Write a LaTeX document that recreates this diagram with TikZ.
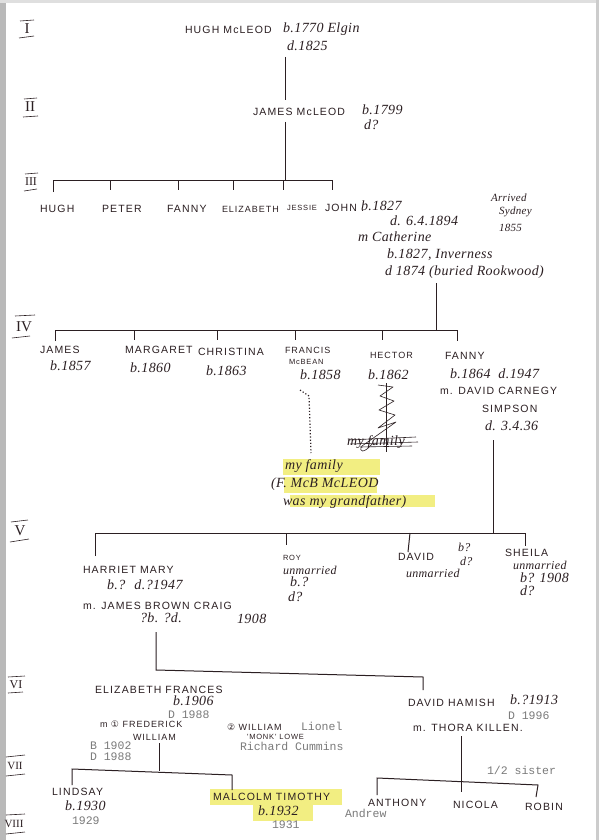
\documentclass[tikz,border=0pt]{standalone}
\usepackage{fontspec}
\setmainfont{Liberation Sans}
\setmonofont{Liberation Mono}
\newfontfamily\capsfont[LetterSpace=11]{Liberation Sans}
\newfontfamily\curfont[LetterSpace=3]{Liberation Serif}
\newfontfamily\romfont{Liberation Serif}
\newfontfamily\symfont{DejaVu Sans}
\definecolor{ink}{HTML}{2B1F22}
\definecolor{typed}{HTML}{7A7A7A}
\definecolor{hl}{HTML}{F2EE82}
\begin{document}
\begin{tikzpicture}[x=1pt,y=-1pt,
  every node/.style={inner sep=0pt,outer sep=0pt,anchor=west,text=ink},
  nm/.style={font=\capsfont\fontsize{10.5}{11}\selectfont},
  nmM/.style={font=\capsfont\fontsize{9}{10}\selectfont},
  nmS/.style={font=\capsfont\fontsize{7.5}{8}\selectfont},
  cur/.style={font=\curfont\itshape\fontsize{14}{15}\selectfont},
  curS/.style={font=\curfont\itshape\fontsize{12}{13}\selectfont},
  curT/.style={font=\curfont\itshape\fontsize{11}{12}\selectfont},
  ty/.style={font=\ttfamily\fontsize{11.5}{12}\selectfont,text=typed},
  rom/.style={font=\romfont\fontsize{15}{16}\selectfont,anchor=center},
  ln/.style={draw=ink,line width=1pt},
  thin/.style={draw=ink,line width=0.6pt},
  hlbox/.style={fill=hl,draw=none}]
\fill[white] (0,0) rectangle (599,840);
\useasboundingbox (0,0) rectangle (599,840);
\fill[gray!55] (0,0) rectangle (6,840);
\fill[gray!25] (0,0) rectangle (599,3);
\fill[gray!40] (596,0) rectangle (599,840);

% highlights
\fill[hlbox] (283,459) rectangle (380,475);
\fill[hlbox] (284,477) rectangle (377,493);
\fill[hlbox] (290,495) rectangle (435,507);
\fill[hlbox] (210,789) rectangle (342,805);
\fill[hlbox] (253,805) rectangle (313,821);

% roman numerals
\node[rom] (r1) at (27,29) {I};
\draw[thin] (20,21) -- (34,20); \draw[thin] (19,38) -- (34,36);
\node[rom] (r2) at (30,107) {II};
\draw[thin] (23,117) -- (38,116); \draw[thin] (24,99) -- (37,98);
\node[rom,font=\romfont\fontsize{12}{13}\selectfont] (r3) at (31,182) {III};
\draw[thin] (25,174) -- (38,173); \draw[thin] (24,191) -- (37,189);
\node[rom] (r4) at (24,327) {IV};
\draw[thin] (15,316) -- (35,315); \draw[thin] (12,338) -- (30,336);
\node[rom] (r5) at (20,531) {V};
\draw[thin] (11,522) -- (28,520); \draw[thin] (10,542) -- (29,539);
\node[rom,font=\romfont\fontsize{12}{13}\selectfont] (r6) at (16,685) {VI};
\draw[thin] (8,677) -- (25,676); \draw[thin] (8,693) -- (23,692);
\node[rom,font=\romfont\fontsize{11}{12}\selectfont] (r7) at (15,766) {VII};
\draw[thin] (6,757) -- (25,755); \draw[thin] (6,776) -- (25,774);
\node[rom,font=\romfont\fontsize{11}{12}\selectfont] (r8) at (14,824) {VIII};
\draw[thin] (6,815) -- (25,814); \draw[thin] (6,834) -- (25,832);

% generation I
\node[nm] (hugh1) at (185,30) {HUGH McLEOD};
\node[cur] (hugh1b) at (283,29) {b.1770 Elgin};
\node[cur] (hugh1d) at (287,46) {d.1825};
\coordinate (c1t) at (285,57); \coordinate (c1b) at (285,100);
\draw[ln] (c1t) -- (c1b);

% generation II
\node[nm] (james2) at (253,112) {JAMES McLEOD};
\node[cur] (james2b) at (362,110) {b.1799};
\node[cur] (james2d) at (364,125) {d?};
\coordinate (c2t) at (285,122); \coordinate (c2b) at (285,180);
\draw[ln] (c2t) -- (c2b);

% generation III bar
\coordinate (b3l) at (53,180); \coordinate (b3r) at (332,180);
\draw[ln] (53,192) -- (b3l) -- (b3r) -- (332,190);
\foreach \x in {110,178,233,283} \draw[ln] (\x,180) -- (\x,190);

\node[nm] (hugh3) at (40,209) {HUGH};
\node[nm] (peter3) at (102,209) {PETER};
\node[nm] (fanny3) at (167,209) {FANNY};
\node[nmM] (eliz3) at (222,209) {ELIZABETH};
\node[nmS] (jessie3) at (287,208) {JESSIE};
\node[nm] (john3) at (325,208) {JOHN .};
\node[cur] (john3b) at (361,206) {b.1827};
\node[cur] (john3d) at (390,221) {d. 6.4.1894};
\node[cur] (john3m) at (358,237) {m Catherine};
\node[cur] (cath3b) at (387,255) {b.1827, Inverness};
\node[cur] (cath3d) at (385,272) {d 1874 (buried Rookwood)};
\node[curT] (arr1) at (491,198) {Arrived};
\node[curT] (arr2) at (499,212) {Sydney};
\node[curT] (arr3) at (499,228) {1855};
\coordinate (c3t) at (436,283); \coordinate (c3b) at (436,330);
\draw[ln] (c3t) -- (c3b);

% generation IV bar
\draw[ln] (55,341) -- (55,330) -- (457,330) -- (457,341);
\foreach \x in {134,217,295,382} \draw[ln] (\x,330) -- (\x,340);

\node[nm] (james4) at (40,350) {JAMES};
\node[cur] (james4b) at (50,366) {b.1857};
\node[nm] (marg4) at (125,350) {MARGARET};
\node[cur] (marg4b) at (130,368) {b.1860};
\node[nm] (chris4) at (198,352) {CHRISTINA};
\node[cur] (chris4b) at (206,371) {b.1863};
\node[nmM] (fran4) at (285,350) {FRANCIS};
\node[nmS] (fran4m) at (289,362) {McBEAN};
\node[cur] (fran4b) at (300,375) {b.1858};
\node[nmM] (hect4) at (370,355) {HECTOR};
\node[cur] (hect4b) at (368,375) {b.1862};
\node[nm] (fanny4) at (445,356) {FANNY};
\node[cur] (fanny4b) at (450,374) {b.1864 \ d.1947};
\node[nm] (fanny4m) at (440,391) {m. DAVID CARNEGY};
\node[nm] (fanny4s) at (482,409) {SIMPSON};
\node[cur] (fanny4d) at (485,426) {d. 3.4.36};

% Francis dotted descent
\coordinate (fr1) at (300,390); \coordinate (fr2) at (309,396); \coordinate (fr3) at (311,453);
\draw[ink,line width=1.2pt,dotted] (fr1) -- (fr2) -- (fr3);
% Hector scribble
\coordinate (he1) at (386,383); \coordinate (he2) at (386,452);
\draw[thin] (he1) -- (he2);
\draw[thin,line join=round] (378,385) -- (393,387) -- (380,396) -- (394,401) -- (379,410) -- (395,415) -- (378,428)
  -- (396,422) -- (362,446) .. controls (358,452) and (364,454) .. (372,444);
\node[cur] (cross) at (347,442) {my family};
\draw[thin] (348,440) -- (416,437); \draw[thin] (350,444) -- (418,442); \draw[thin] (360,447) -- (412,446);

% note
\node[cur] (note1) at (285,466) {my family};
\node[cur] (note2) at (271,484) {(F. McB McLEOD};
\node[cur] (note3) at (283,502) {was my grandfather)};

% Fanny descent
\coordinate (c4t) at (493,440); \coordinate (c4b) at (493,533);
\draw[ln] (c4t) -- (c4b);

% generation V bar
\draw[ln] (95,556) -- (95,533) -- (525,533) -- (525,546);
\draw[ln] (286,533) -- (286,545);
\draw[ln] (410,533) -- (408,552);

\node[nm] (harr5) at (83,570) {HARRIET MARY};
\node[cur] (harr5b) at (107,585) {b.? \ d.?1947};
\node[nm] (harr5m) at (83,606) {m. JAMES BROWN CRAIG};
\node[cur] (harr5c) at (140,618) {?b. ?d.};
\node[cur] (harr5y) at (237,619) {1908};
\node[nmS] (roy5) at (283,558) {ROY};
\node[curS] (roy5u) at (283,570) {unmarried};
\node[cur] (roy5b) at (290,582) {b.?};
\node[cur] (roy5d) at (288,597) {d?};
\node[nm] (dav5) at (398,557) {DAVID};
\node[curS] (dav5b) at (458,547) {b?};
\node[curS] (dav5d) at (460,561) {d?};
\node[curS] (dav5u) at (406,573) {unmarried};
\node[nm] (sheila5) at (505,553) {SHEILA};
\node[curS] (sheila5u) at (513,565) {unmarried};
\node[cur] (sheila5b) at (520,578) {b? 1908};
\node[cur] (sheila5d) at (520,591) {d?};

% Harriet descent and generation VI bar
\coordinate (c5t) at (156,632); \coordinate (c5b) at (156,670);
\draw[ln] (c5t) -- (c5b) -- (423,677) -- (423,690);

\node[nm] (eliz6) at (95,690) {ELIZABETH FRANCES};
\node[cur] (eliz6b) at (173,701) {b.1906};
\node[ty] (eliz6d) at (168,715) {D 1988};
\node[nmM] (fred6) at (100,724) {m {\symfont①} FREDERICK};
\node[nmM] (fred6w) at (133,737) {WILLIAM};
\node[ty] (fred6b) at (90,746) {B 1902};
\node[ty] (fred6d) at (90,757) {D 1988};
\node[nmM] (will6) at (227,727) {{\symfont②} WILLIAM};
\node[ty] (will6l) at (301,726) {Lionel};
\node[ty] (rich6) at (240,746) {Richard Cummins};
\node[nmS] (monk6) at (247,737) {'MONK' LOWE};

\node[nm] (dav6) at (408,703) {DAVID HAMISH};
\node[cur] (dav6b) at (510,700) {b.?1913};
\node[ty] (dav6d) at (508,716) {D 1996};
\node[nm] (thora6) at (413,728) {m. THORA KILLEN.};

% Frederick descent, generation VII bar
\coordinate (c6t) at (159,743); \coordinate (c6b) at (159,771);
\draw[ln] (c6t) -- (c6b);
\draw[ln] (72,785) -- (72,769) -- (232,775) -- (232,790);

\node[nm] (lind7) at (52,792) {LINDSAY};
\node[cur] (lind7b) at (65,806) {b.1930};
\node[ty] (lind7t) at (72,821) {1929};
\node[nm] (malc7) at (213,797) {MALCOLM TIMOTHY};
\node[cur] (malc7b) at (258,811) {b.1932};
\node[ty] (malc7t) at (272,825) {1931};
\node[ty] (andr7) at (345,813) {Andrew};

% Thora descent, bar
\coordinate (c7t) at (461,736); \coordinate (c7b) at (461,792);
\draw[ln] (c7t) -- (c7b);
\draw[ln] (377,795) -- (377,778) -- (538,785) -- (536,797);
\node[ty] (half) at (487,770) {1/2 sister};
\node[nm] (anth7) at (368,803) {ANTHONY};
\node[nm] (nic7) at (453,805) {NICOLA};
\node[nm] (rob7) at (525,807) {ROBIN};
\end{tikzpicture}
\end{document}
